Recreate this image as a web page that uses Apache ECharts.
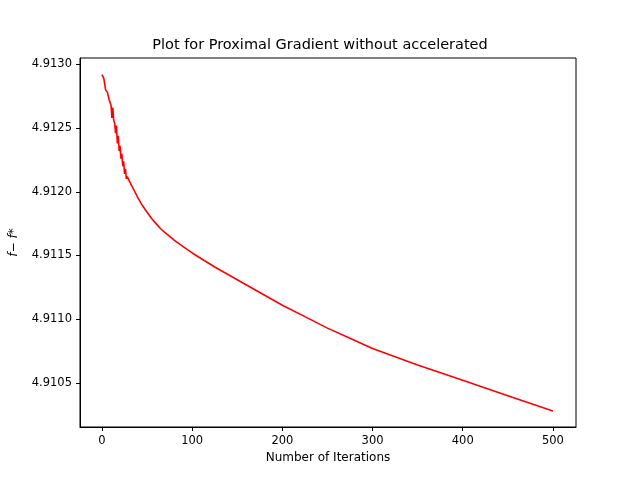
<!DOCTYPE html>
<html>
<head>
<meta charset="utf-8">
<script src="https://cdn.jsdelivr.net/npm/echarts@6/dist/echarts.min.js"></script>
<style>html,body{margin:0;padding:0;background:#fff}#main{width:640px;height:480px}</style>
</head>
<body>
<div id="main"></div>
<script>
// 迭代次数与目标函数值
var iterations = [0, 2, 4, 6, 8, 10, 11, 12, 13, 14, 15, 16, 17, 18, 19, 20, 21, 22, 23, 24, 25, 26, 27, 28, 30, 32, 35, 40, 45, 50, 55, 60, 65, 70, 75, 80, 90, 100, 125, 150, 175, 200, 225, 250, 275, 300, 350, 400, 450, 500];
var values = [4.91292, 4.91289, 4.91280, 4.91278, 4.91272, 4.91268, 4.91258, 4.91266, 4.91256, 4.91254, 4.91246, 4.91252, 4.91238, 4.91244, 4.91232, 4.91236, 4.91226, 4.91230, 4.91220, 4.91224, 4.91214, 4.91218, 4.91210, 4.91212, 4.91209, 4.91206, 4.91202, 4.91195, 4.91189, 4.91184, 4.91179, 4.91175, 4.91171, 4.91168, 4.91165, 4.91162, 4.91157, 4.91152, 4.91141, 4.91131, 4.91121, 4.91111, 4.91102, 4.91093, 4.91085, 4.91077, 4.91064, 4.91052, 4.91040, 4.91028];
var xTicks = [0, 100, 200, 300, 400, 500];
var yTicks = [4.9105, 4.9110, 4.9115, 4.9120, 4.9125, 4.9130];

var chart = echarts.init(document.getElementById('main'));
var font = 'DejaVu Sans';
chart.setOption({
	animation: false,
	title: {
		text: 'Plot for Proximal Gradient without accelerated',
		left: 'center', top: 33,
		textStyle: {fontFamily: font, fontSize: 14.5, fontWeight: 'normal', color: '#000'}
	},
	grid: {left: 80, right: 64, top: 58, bottom: 53},
	xAxis: {
		type: 'value', min: -24.4, max: 525.6,
		name: 'Number of Iterations', nameLocation: 'middle', nameGap: 25,
		nameTextStyle: {fontFamily: font, fontSize: 12, color: '#000'},
		axisLine: {onZero: false, lineStyle: {color: '#000'}},
		axisTick: {show: true, length: 4, lineStyle: {color: '#000'}, customValues: xTicks},
		axisLabel: {fontFamily: font, fontSize: 11.5, color: '#000', customValues: xTicks},
		splitLine: {show: false}
	},
	yAxis: {
		type: 'value', min: 4.910154, max: 4.91305,
		name: 'f\u2212 f*', nameLocation: 'middle', nameGap: 60,
		nameTextStyle: {fontFamily: font, fontSize: 12, fontStyle: 'italic', color: '#000'},
		axisLine: {show: true, onZero: false, lineStyle: {color: '#000'}},
		axisTick: {show: true, length: 4, lineStyle: {color: '#000'}, customValues: yTicks},
		axisLabel: {fontFamily: font, fontSize: 11.5, color: '#000', customValues: yTicks,
			formatter: function (v) { return v.toFixed(4); }},
		splitLine: {show: false}
	},
	series: [{
		type: 'line',
		data: iterations.map(function (x, i) { return [x, values[i]]; }),
		showSymbol: false,
		lineStyle: {color: '#ff0000', width: 1.6},
		itemStyle: {color: '#ff0000'}
	}]
});
// 右侧和顶部边框
chart.setOption({graphic: [{type: 'rect', shape: {x: 80, y: 58, width: 496, height: 369},
	style: {fill: 'none', stroke: '#000', lineWidth: 1}, silent: true}]});
</script>
</body>
</html>
